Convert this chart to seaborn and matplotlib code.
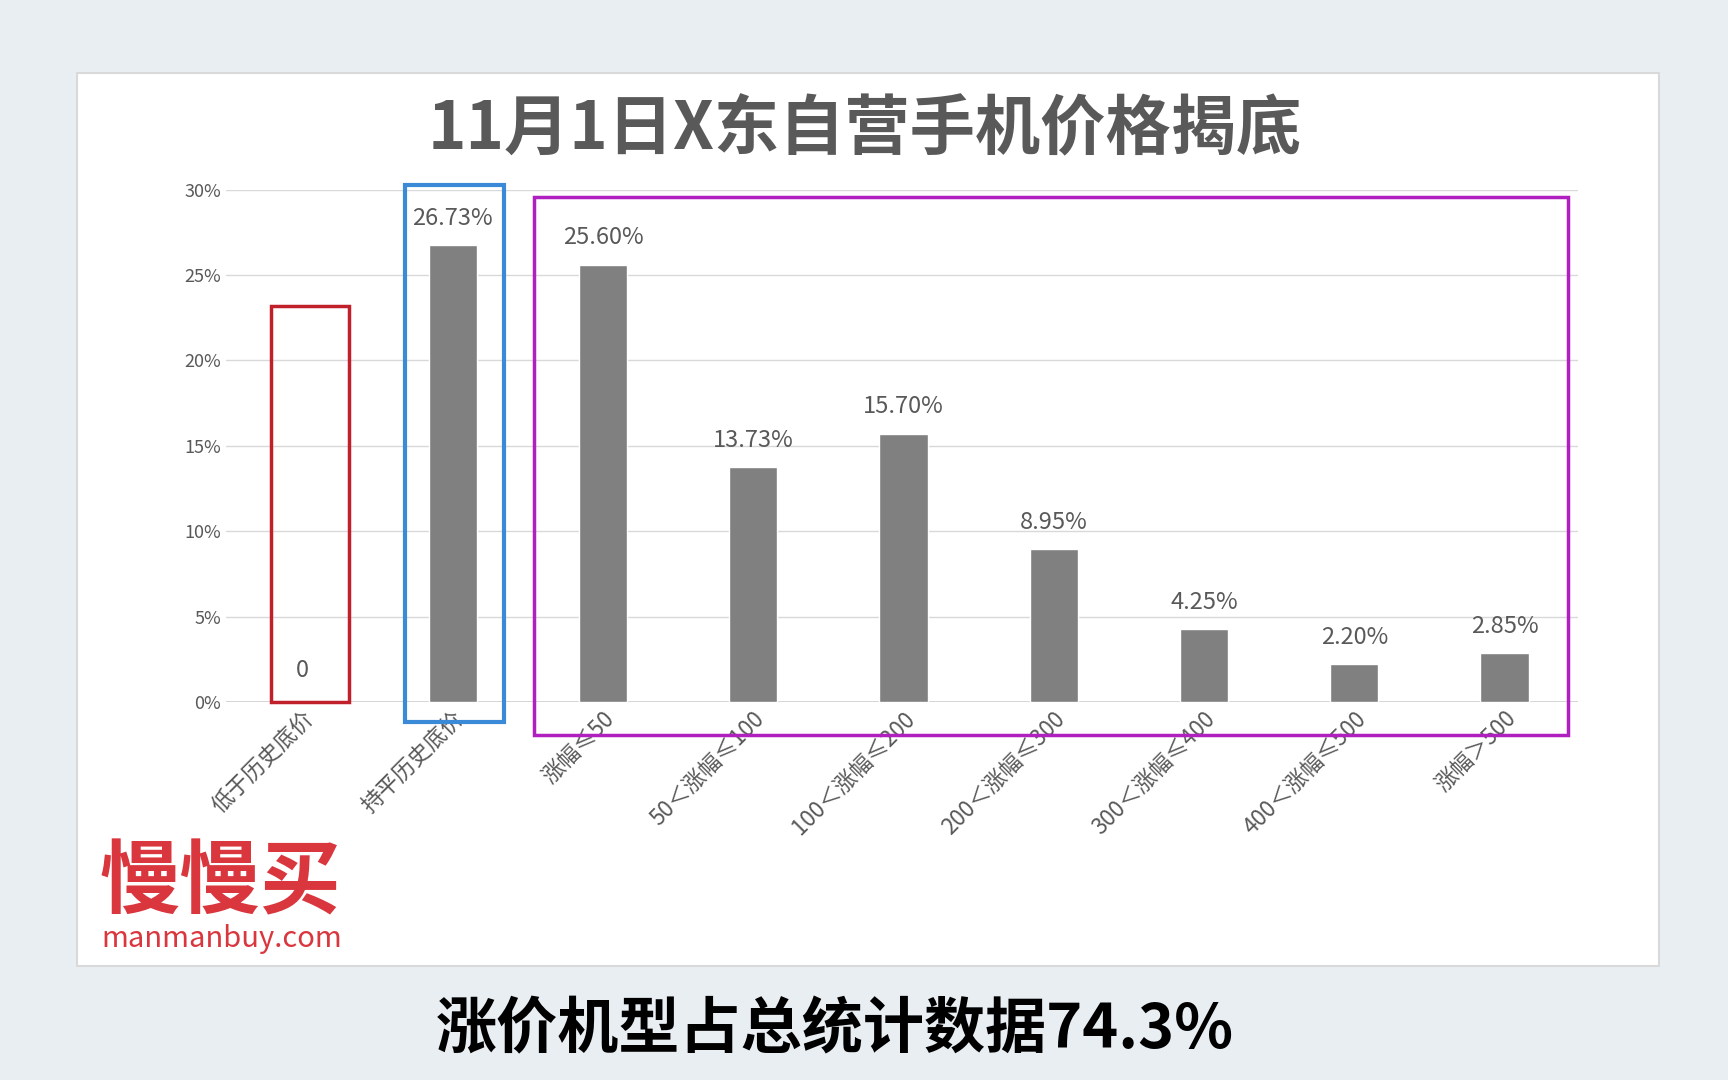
import matplotlib
matplotlib.use("Agg")
import matplotlib.pyplot as plt
from matplotlib.patches import Rectangle
from matplotlib.ticker import PercentFormatter
import seaborn as sns
import pandas as pd

categories = ["低于历史底价", "持平历史底价", "涨幅≤50", "50＜涨幅≤100", "100＜涨幅≤200",
              "200＜涨幅≤300", "300＜涨幅≤400", "400＜涨幅≤500", "涨幅＞500"]
values = [0.0, 26.73, 25.60, 13.73, 15.70, 8.95, 4.25, 2.20, 2.85]
labels = ["0", "26.73%", "25.60%", "13.73%", "15.70%", "8.95%", "4.25%", "2.20%", "2.85%"]

sns.set_theme(style="white")
plt.rcParams['font.family'] = ['Noto Sans CJK SC', 'DejaVu Sans']

W, H = 1568, 980
fig = plt.figure(figsize=(17.28, 10.8), dpi=100)
fig.patch.set_facecolor("#e9eef3")
# white card
fig.patches.append(Rectangle((70 / W, 1 - 877 / H), 1435 / W, 811 / H, transform=fig.transFigure,
                             facecolor="white", edgecolor="#d9d9d9", lw=1.5, zorder=-10))

ax = fig.add_axes([205 / W, 1 - 637 / H, (1432 - 205) / W, (637 - 172) / H])
ax.set_facecolor("none")
df = pd.DataFrame({"cat": categories, "val": values})
sns.barplot(data=df, x="cat", y="val", color="#808080", saturation=1, width=0.32, ax=ax, zorder=3)
ax.set_xlim(-0.51, 8.49)
ax.set_ylim(0, 30)
ax.set_yticks(range(0, 31, 5))
ax.yaxis.set_major_formatter(PercentFormatter(decimals=0))
ax.grid(axis="y", color="#d9d9d9", lw=1)
for s in ax.spines.values():
    s.set_visible(False)
ax.axhline(0, color="#d0d0d0", lw=1.2)
ax.set_xlabel("")
ax.set_ylabel("")
ax.tick_params(axis="y", labelsize=13, colors="#595959", length=0)
ax.tick_params(axis="x", labelsize=16, colors="#595959", length=0)
plt.setp(ax.get_xticklabels(), rotation=45, ha="right", rotation_mode="anchor")

for i, (v, t) in enumerate(zip(values, labels)):
    y = 1.2 if v == 0 else v + 0.9
    ax.text(i, y, t, ha="center", va="bottom", fontsize=17, color="#595959", zorder=4)

# highlight boxes
ax.add_patch(Rectangle((-0.21, 0), 0.52, 23.2, fill=False, ec="#c0202a", lw=2.5, clip_on=False, zorder=5))
ax.add_patch(Rectangle((0.68, -1.16), 0.66, 31.4, fill=False, ec="#3a8ad8", lw=3, clip_on=False, zorder=5))
ax.add_patch(Rectangle((1.54, -1.94), 6.88, 31.5, fill=False, ec="#b020c0", lw=2.5, clip_on=False, zorder=5))

fig.text(785 / W, 1 - 118 / H, "11月1日X东自营手机价格揭底", ha="center", va="center",
         fontsize=47, fontweight="bold", color="#595959")
fig.text(90 / W, 1 - 802 / H, "慢慢买", ha="left", va="center", fontsize=58,
         fontweight="bold", color="#d9363e")
fig.text(92 / W, 1 - 852 / H, "manmanbuy.com", ha="left", va="center", fontsize=21, color="#d9363e")
fig.text(758 / W, 1 - 935 / H, "涨价机型占总统计数据74.3%", ha="center", va="center",
         fontsize=44, fontweight="bold", color="black")

fig.savefig("out.png", dpi=100, facecolor=fig.get_facecolor())
